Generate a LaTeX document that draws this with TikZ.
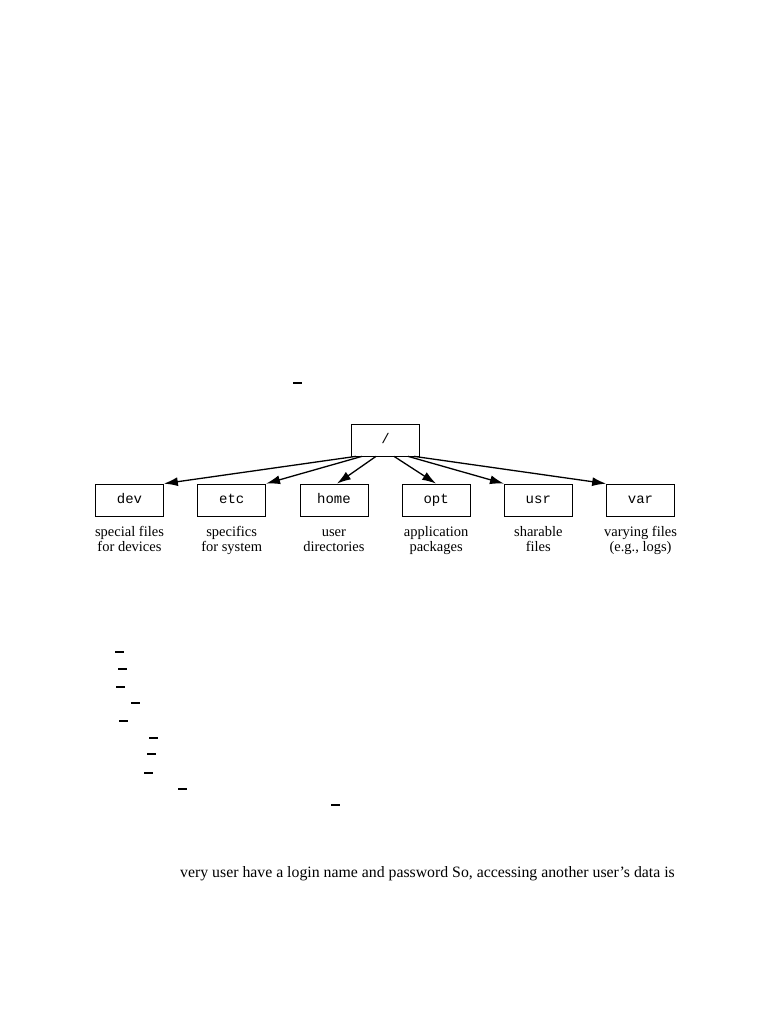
\documentclass[tikz,border=0pt]{standalone}
\usepackage{fontspec}
\setmainfont{Liberation Serif}
\setmonofont{Liberation Mono}
\usetikzlibrary{positioning,arrows.meta}

\tikzset{
  dirbox/.style={draw,line width=0.7pt,minimum width=68pt,minimum height=32pt,
    inner sep=0pt,text height=9pt,text depth=2pt,font=\ttfamily\fontsize{14}{14}\selectfont},
  desc/.style={align=center,inner sep=0pt,font=\fontsize{14.5}{15.5}\selectfont},
  link/.style={-{Latex[length=14pt,width=9pt]},line width=1.3pt},
  blank/.style={line width=1.3pt}
}

\begin{document}
\begin{tikzpicture}[x=1pt,y=-1pt,node distance=33.5pt]
    \useasboundingbox[fill=white] (0,0) rectangle (768,1024);
    \node[dirbox] (root) at (385.5,440) {/};
    \node[dirbox] (dev) at (129.5,500) {dev};
    \node[dirbox,right=of dev] (etc) {etc};
    \node[dirbox,right=of etc] (home) {home};
    \node[dirbox,right=of home] (opt) {opt};
    \node[dirbox,right=of opt] (usr) {usr};
    \node[dirbox,right=of usr] (var) {var};
    \node[desc,below=9pt of dev] (devtxt) {\strut special files\\\strut for devices};
    \node[desc,below=9pt of etc] (etctxt) {\strut specifics\\\strut for system};
    \node[desc,below=9pt of home] (hometxt) {\strut user\\\strut directories};
    \node[desc,below=9pt of opt] (opttxt) {\strut application\\\strut packages};
    \node[desc,below=9pt of usr] (usrtxt) {\strut sharable\\\strut files};
    \node[desc,below=9pt of var] (vartxt) {\strut varying files\\\strut (e.g., logs)};
    \draw[link] ([xshift=-29.5pt]root.south) -- (dev.north east);
    \draw[link] ([xshift=-23.5pt]root.south) -- (etc.north east);
    \draw[link] ([xshift=-9.5pt]root.south) -- ([xshift=3pt]home.north);
    \draw[link] ([xshift=8.5pt]root.south) -- (opt.north);
    \draw[link] ([xshift=22.5pt]root.south) -- (usr.north west);
    \draw[link] ([xshift=28.5pt]root.south) -- (var.north west);
    % stray marks of the scan
    \foreach \mx/\my in {293/383,115/652,118/669,116/687,131/703,119/721,
        149/738,147/754,144/773,178/789,331/805}
      \draw[blank] (\mx,\my) -- ++(8.5,0);
    \node[anchor=base west,inner sep=0pt,font=\fontsize{15.8}{18}\selectfont] (line) at (180,877)
      {very user have a login name and password So, accessing another user’s data is};
\end{tikzpicture}
\end{document}
